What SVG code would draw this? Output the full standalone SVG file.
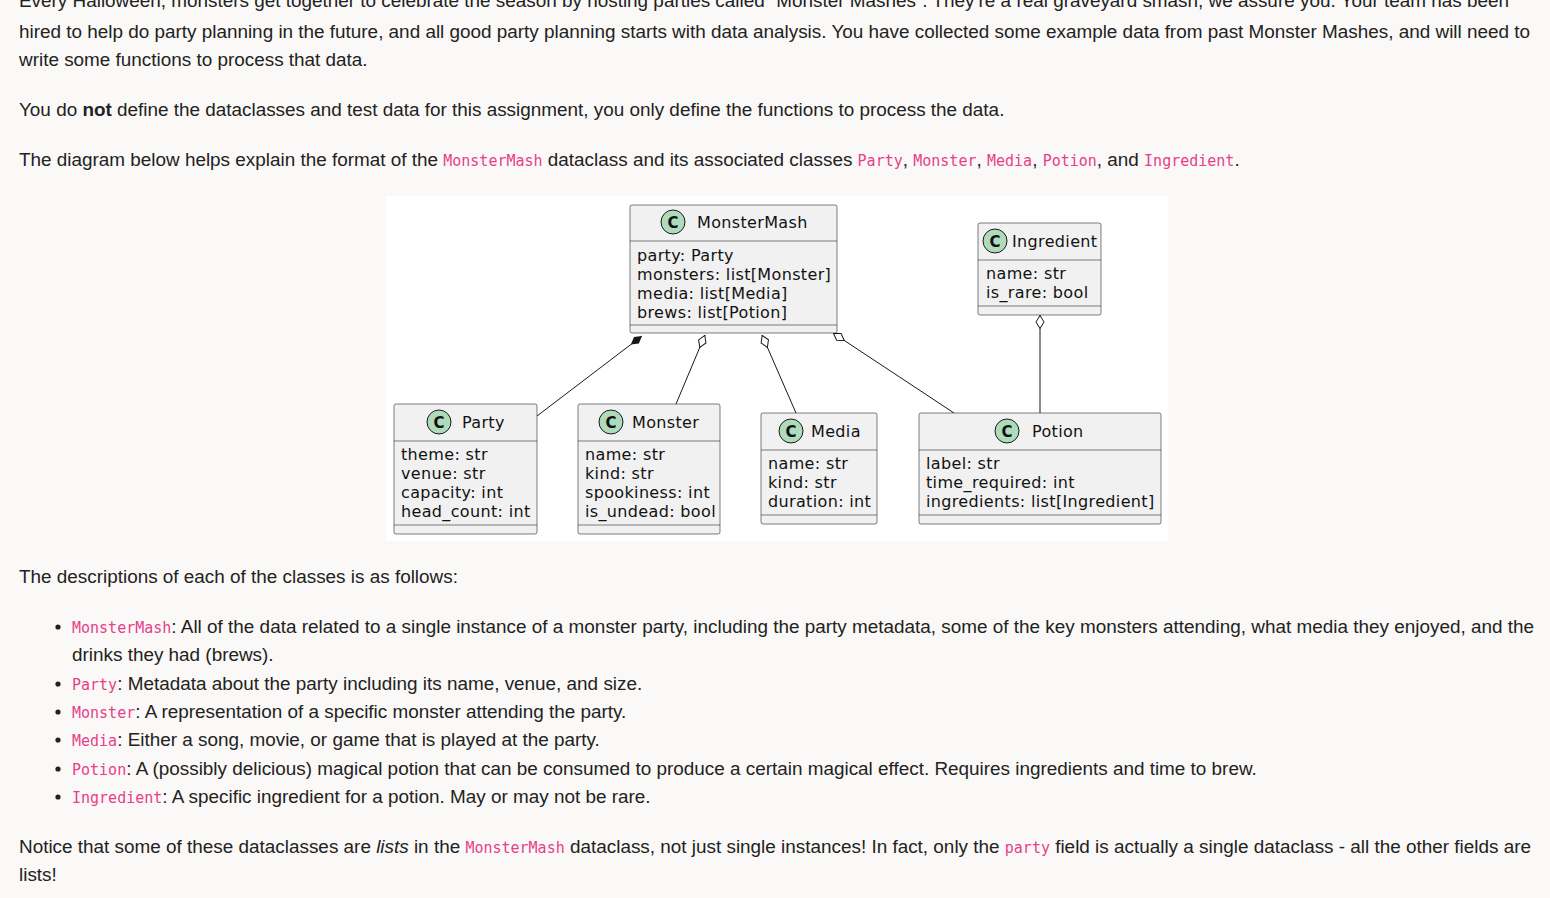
<svg xmlns="http://www.w3.org/2000/svg" width="1550" height="898" viewBox="0 0 1550 898">
<style>
.t{font-family:"Liberation Sans",Arial,sans-serif;font-size:18.9px;fill:#222}
.c{font-family:"DejaVu Sans Mono","Liberation Mono",monospace;font-size:15px;fill:#e83e8c}
.d{font-family:"DejaVu Sans",sans-serif;font-size:16px;letter-spacing:0.35px;fill:#111}
.box{fill:#f1f1f1;stroke:#181818;stroke-opacity:.55;stroke-width:1}
.sep{stroke:#181818;stroke-opacity:.55}
.ci{fill:#addbbc;stroke:#181818;stroke-width:1}
.cl{font-family:"DejaVu Sans",sans-serif;font-size:15px;font-weight:bold;fill:#111}
.ln{stroke:#181818;stroke-width:1;fill:none}
</style>
<defs>
<marker id="fd" markerWidth="16" markerHeight="10" refX="0" refY="5" orient="auto" markerUnits="userSpaceOnUse"><polygon points="0,5 7,1 14,5 7,9" fill="#181818"/></marker>
<marker id="od" markerWidth="16" markerHeight="10" refX="0" refY="5" orient="auto" markerUnits="userSpaceOnUse"><polygon points="0.5,5 7,1 13.5,5 7,9" fill="#fff" stroke="#181818"/></marker>
</defs>
<rect width="1550" height="898" fill="#faf9f7"/>
<text class="t" x="19" y="7" textLength="1490">Every Halloween, monsters get together to celebrate the season by hosting parties called “Monster Mashes”. They’re a real graveyard smash, we assure you. Your team has been</text>
<text class="t" x="19" y="38" textLength="1511">hired to help do party planning in the future, and all good party planning starts with data analysis. You have collected some example data from past Monster Mashes, and will need to</text>
<text class="t" x="19" y="66">write some functions to process that data.</text>
<text class="t" x="19" y="116">You do <tspan font-weight="bold">not</tspan> define the dataclasses and test data for this assignment, you only define the functions to process the data.</text>
<text class="t" x="19" y="166">The diagram below helps explain the format of the <tspan class="c">MonsterMash</tspan> dataclass and its associated classes <tspan class="c">Party</tspan>, <tspan class="c">Monster</tspan>, <tspan class="c">Media</tspan>, <tspan class="c">Potion</tspan>, and <tspan class="c">Ingredient</tspan>.</text>

<rect x="386" y="196" width="782" height="345" fill="#fff"/>
<g id="connectors">
<line class="ln" x1="642" y1="336" x2="537" y2="416" marker-start="url(#fd)"/>
<line class="ln" x1="705" y1="335" x2="676" y2="404" marker-start="url(#od)"/>
<line class="ln" x1="762" y1="335" x2="796" y2="413" marker-start="url(#od)"/>
<line class="ln" x1="833" y1="333" x2="954" y2="413" marker-start="url(#od)"/>
<line class="ln" x1="1040" y1="315" x2="1040" y2="413" marker-start="url(#od)"/>
</g>
<g id="MonsterMash">
<rect class="box" x="630" y="205" width="207" height="128" rx="2"/>
<line class="sep" x1="630" y1="241" x2="837" y2="241"/><line class="sep" x1="630" y1="325" x2="837" y2="325"/>
<circle class="ci" cx="673" cy="222" r="12"/><text class="cl" x="673" y="227.5" text-anchor="middle">C</text>
<text class="d" x="697" y="228">MonsterMash</text>
<text class="d" x="637" y="261">party: Party</text><text class="d" x="637" y="280">monsters: list[Monster]</text><text class="d" x="637" y="299">media: list[Media]</text><text class="d" x="637" y="318">brews: list[Potion]</text>
</g>
<g id="Ingredient">
<rect class="box" x="978" y="223" width="123" height="92" rx="2"/>
<line class="sep" x1="978" y1="260" x2="1101" y2="260"/><line class="sep" x1="978" y1="306" x2="1101" y2="306"/>
<circle class="ci" cx="995" cy="241" r="12"/><text class="cl" x="995" y="246.5" text-anchor="middle">C</text>
<text class="d" x="1012" y="247">Ingredient</text>
<text class="d" x="986" y="279">name: str</text><text class="d" x="986" y="298">is_rare: bool</text>
</g>
<g id="Party">
<rect class="box" x="394" y="404" width="143" height="130" rx="2"/>
<line class="sep" x1="394" y1="441" x2="537" y2="441"/><line class="sep" x1="394" y1="525" x2="537" y2="525"/>
<circle class="ci" cx="439" cy="422" r="12"/><text class="cl" x="439" y="427.5" text-anchor="middle">C</text>
<text class="d" x="462" y="428">Party</text>
<text class="d" x="401" y="460">theme: str</text><text class="d" x="401" y="479">venue: str</text><text class="d" x="401" y="498">capacity: int</text><text class="d" x="401" y="517">head_count: int</text>
</g>
<g id="Monster">
<rect class="box" x="578" y="404" width="142" height="130" rx="2"/>
<line class="sep" x1="578" y1="441" x2="720" y2="441"/><line class="sep" x1="578" y1="525" x2="720" y2="525"/>
<circle class="ci" cx="611" cy="422" r="12"/><text class="cl" x="611" y="427.5" text-anchor="middle">C</text>
<text class="d" x="632" y="428">Monster</text>
<text class="d" x="585" y="460">name: str</text><text class="d" x="585" y="479">kind: str</text><text class="d" x="585" y="498">spookiness: int</text><text class="d" x="585" y="517">is_undead: bool</text>
</g>
<g id="Media">
<rect class="box" x="761" y="413" width="116" height="111" rx="2"/>
<line class="sep" x1="761" y1="450" x2="877" y2="450"/><line class="sep" x1="761" y1="515" x2="877" y2="515"/>
<circle class="ci" cx="791" cy="431" r="12"/><text class="cl" x="791" y="436.5" text-anchor="middle">C</text>
<text class="d" x="811" y="437">Media</text>
<text class="d" x="768" y="469">name: str</text><text class="d" x="768" y="488">kind: str</text><text class="d" x="768" y="507">duration: int</text>
</g>
<g id="Potion">
<rect class="box" x="919" y="413" width="242" height="111" rx="2"/>
<line class="sep" x1="919" y1="450" x2="1161" y2="450"/><line class="sep" x1="919" y1="515" x2="1161" y2="515"/>
<circle class="ci" cx="1007" cy="431" r="12"/><text class="cl" x="1007" y="436.5" text-anchor="middle">C</text>
<text class="d" x="1032" y="437">Potion</text>
<text class="d" x="926" y="469">label: str</text><text class="d" x="926" y="488">time_required: int</text><text class="d" x="926" y="507">ingredients: list[Ingredient]</text>
</g>

<text class="t" x="19" y="583">The descriptions of each of the classes is as follows:</text>
<g fill="#222"><circle cx="58" cy="627" r="2.6"/><circle cx="58" cy="684" r="2.6"/><circle cx="58" cy="712" r="2.6"/><circle cx="58" cy="740" r="2.6"/><circle cx="58" cy="769" r="2.6"/><circle cx="58" cy="797" r="2.6"/></g>
<text class="t" x="72" y="633" textLength="1462"><tspan class="c">MonsterMash</tspan>: All of the data related to a single instance of a monster party, including the party metadata, some of the key monsters attending, what media they enjoyed, and the</text>
<text class="t" x="72" y="661">drinks they had (brews).</text>
<text class="t" x="72" y="690"><tspan class="c">Party</tspan>: Metadata about the party including its name, venue, and size.</text>
<text class="t" x="72" y="718"><tspan class="c">Monster</tspan>: A representation of a specific monster attending the party.</text>
<text class="t" x="72" y="746"><tspan class="c">Media</tspan>: Either a song, movie, or game that is played at the party.</text>
<text class="t" x="72" y="775"><tspan class="c">Potion</tspan>: A (possibly delicious) magical potion that can be consumed to produce a certain magical effect. Requires ingredients and time to brew.</text>
<text class="t" x="72" y="803"><tspan class="c">Ingredient</tspan>: A specific ingredient for a potion. May or may not be rare.</text>
<text class="t" x="19" y="853" textLength="1512">Notice that some of these dataclasses are <tspan font-style="italic">lists</tspan> in the <tspan class="c">MonsterMash</tspan> dataclass, not just single instances! In fact, only the <tspan class="c">party</tspan> field is actually a single dataclass - all the other fields are</text>
<text class="t" x="19" y="881">lists!</text>
</svg>
